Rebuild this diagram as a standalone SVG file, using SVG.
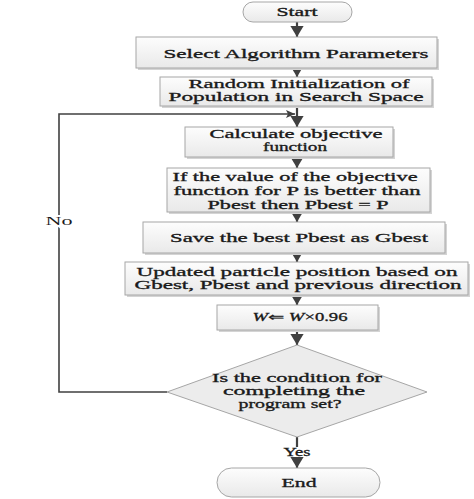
<svg xmlns="http://www.w3.org/2000/svg" width="474" height="499" viewBox="0 0 474 499">
<defs>
<linearGradient id="g" x1="0" y1="0" x2="0" y2="1">
<stop offset="0" stop-color="#fdfdfd"/>
<stop offset="1" stop-color="#e9e9e9"/>
</linearGradient>
<marker id="ah" markerWidth="6" markerHeight="6" refX="5" refY="3" orient="auto" markerUnits="strokeWidth">
<path d="M0,0 L5,3 L0,6 Z" fill="#404040"/>
</marker>
<marker id="ahs" markerWidth="10" markerHeight="8" refX="9" refY="4" orient="auto" markerUnits="userSpaceOnUse">
<path d="M0,0 L9,4 L0,8 L2,4 Z" fill="#404040"/>
</marker>
</defs>
<style>
.box{fill:url(#g);stroke:#a6a6a6;stroke-width:1}
.sh{fill:#d4d4d4}
.t{font-family:"Liberation Serif","Times New Roman",serif;font-size:11.5px;fill:#1a1a1a;stroke:#1a1a1a;stroke-width:0.3;text-anchor:middle}
.c{fill:none;stroke:#404040;stroke-width:2.2}
.loop{fill:none;stroke:#404040;stroke-width:1.6}
</style>
<rect width="474" height="499" fill="#ffffff"/>
<g id="connectors">
<line class="c" x1="297" y1="22" x2="297" y2="37" marker-end="url(#ah)"/>
<line class="c" x1="297" y1="68" x2="297" y2="77" marker-end="url(#ah)"/>
<line class="c" x1="297" y1="106" x2="297" y2="127" marker-end="url(#ah)"/>
<line class="c" x1="297" y1="157" x2="297" y2="168" marker-end="url(#ah)"/>
<line class="c" x1="297" y1="212" x2="297" y2="222" marker-end="url(#ah)"/>
<line class="c" x1="297" y1="253" x2="297" y2="262" marker-end="url(#ah)"/>
<line class="c" x1="297" y1="295" x2="297" y2="305" marker-end="url(#ah)"/>
<line class="c" x1="297" y1="330" x2="297" y2="345" marker-end="url(#ah)"/>
<line class="c" x1="297" y1="437" x2="297" y2="447"/>
<line class="c" x1="297" y1="458" x2="297" y2="468" marker-end="url(#ah)"/>
<polyline class="loop" points="167,392 59,392 59,114 295,114" marker-end="url(#ahs)"/>
<text class="t" x="59" y="225" textLength="27" lengthAdjust="spacingAndGlyphs" style="paint-order:stroke;stroke:#fff;stroke-width:4">No</text>
<text class="t" x="297" y="456" textLength="27" lengthAdjust="spacingAndGlyphs">Yes</text>
</g>
<g id="start">
<rect x="243" y="2" width="109" height="20" rx="10" class="box"/>
<text class="t" x="297" y="16" textLength="41" lengthAdjust="spacingAndGlyphs">Start</text>
</g>
<g id="select">
<rect x="138" y="39" width="301" height="31" class="sh"/>
<rect x="136" y="37" width="301" height="31" class="box"/>
<text class="t" x="296" y="58" textLength="265" lengthAdjust="spacingAndGlyphs">Select Algorithm Parameters</text>
</g>
<g id="random">
<rect x="162" y="79" width="272" height="29" class="sh"/>
<rect x="160" y="77" width="272" height="29" class="box"/>
<text class="t" x="299" y="88" textLength="221" lengthAdjust="spacingAndGlyphs">Random Initialization of</text>
<text class="t" x="296" y="101" textLength="255" lengthAdjust="spacingAndGlyphs">Population in Search Space</text>
</g>
<g id="calculate">
<rect x="187" y="129" width="208" height="30" class="sh"/>
<rect x="185" y="127" width="208" height="30" class="box"/>
<text class="t" x="296" y="138" textLength="173" lengthAdjust="spacingAndGlyphs">Calculate objective</text>
<text class="t" x="295" y="151" textLength="64" lengthAdjust="spacingAndGlyphs">function</text>
</g>
<g id="pbest">
<rect x="169" y="170" width="263" height="44" class="sh"/>
<rect x="167" y="168" width="263" height="44" class="box"/>
<text class="t" x="295" y="181" textLength="245" lengthAdjust="spacingAndGlyphs">If the value of the objective</text>
<text class="t" x="297" y="195" textLength="247" lengthAdjust="spacingAndGlyphs">function for P is better than</text>
<text class="t" x="298" y="209" textLength="181" lengthAdjust="spacingAndGlyphs">Pbest then Pbest = P</text>
</g>
<g id="gbest">
<rect x="145" y="224" width="302" height="31" class="sh"/>
<rect x="143" y="222" width="302" height="31" class="box"/>
<text class="t" x="299" y="242" textLength="258" lengthAdjust="spacingAndGlyphs">Save the best Pbest as Gbest</text>
</g>
<g id="update">
<rect x="127" y="264" width="343" height="33" class="sh"/>
<rect x="125" y="262" width="343" height="33" class="box"/>
<text class="t" x="297" y="276" textLength="321" lengthAdjust="spacingAndGlyphs">Updated particle position based on</text>
<text class="t" x="298" y="289" textLength="327" lengthAdjust="spacingAndGlyphs">Gbest, Pbest and previous direction</text>
</g>
<g id="weight">
<rect x="219" y="307" width="161" height="25" class="sh"/>
<rect x="217" y="305" width="161" height="25" class="box"/>
<text class="t" x="300" y="321" textLength="95" lengthAdjust="spacingAndGlyphs"><tspan font-style="italic">W</tspan>⇐ <tspan font-style="italic">W</tspan>×0.96</text>
</g>
<g id="decision">
<polygon points="297,345 427,392 297,437 167,392" fill="#ececec" stroke="#a6a6a6" stroke-width="1"/>
<text class="t" x="297" y="382" textLength="170" lengthAdjust="spacingAndGlyphs">Is the condition for</text>
<text class="t" x="294" y="395" textLength="142" lengthAdjust="spacingAndGlyphs">completing the</text>
<text class="t" x="290" y="408" textLength="103" lengthAdjust="spacingAndGlyphs">program set?</text>
</g>
<g id="end">
<rect x="217" y="468" width="163" height="29" rx="14.5" class="box"/>
<text class="t" x="299" y="487" textLength="35" lengthAdjust="spacingAndGlyphs">End</text>
</g>
</svg>
